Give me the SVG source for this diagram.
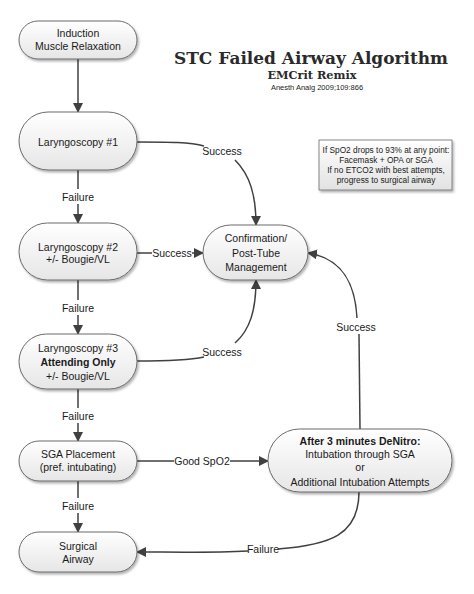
<svg xmlns="http://www.w3.org/2000/svg" width="474" height="594" viewBox="0 0 474 594">
<defs>
<linearGradient id="g" x1="0" y1="0" x2="0" y2="1">
<stop offset="0" stop-color="#ffffff"/>
<stop offset="1" stop-color="#e6e6e6"/>
</linearGradient>
<linearGradient id="gb" x1="0" y1="0" x2="0" y2="1">
<stop offset="0" stop-color="#ffffff"/>
<stop offset="1" stop-color="#e2e2e2"/>
</linearGradient>
<filter id="sh" x="-10%" y="-10%" width="125%" height="140%">
<feDropShadow dx="1.5" dy="2" stdDeviation="1.2" flood-color="#000" flood-opacity="0.3"/>
</filter>
<marker id="ah" viewBox="0 0 10 10" refX="9" refY="5" markerWidth="10" markerHeight="10" markerUnits="userSpaceOnUse" orient="auto">
<path d="M0,0 L10,5 L0,10 z" fill="#404040"/>
</marker>
<style>
.n{fill:url(#g);stroke:#6b6b6b;stroke-width:1;filter:url(#sh)}
.t{font-family:"Liberation Sans",Arial,sans-serif;font-size:10.5px;fill:#1a1a1a;text-anchor:middle}
.s{font-size:8.3px}
.b{font-weight:bold}
.c{fill:none;stroke:#404040;stroke-width:1.5}
.l{font-family:"Liberation Sans",Arial,sans-serif;font-size:10.5px;fill:#1a1a1a;text-anchor:middle}
</style>
</defs>
<rect width="474" height="594" fill="#ffffff"/>

<g id="title">
<text x="311" y="64" font-family="'DejaVu Serif',serif" font-weight="bold" font-size="16" fill="#2a2a2a" text-anchor="middle" textLength="274" lengthAdjust="spacingAndGlyphs">STC Failed Airway Algorithm</text>
<text x="312" y="79" font-family="'DejaVu Serif',serif" font-weight="bold" font-size="11" fill="#2a2a2a" text-anchor="middle" textLength="89" lengthAdjust="spacingAndGlyphs">EMCrit Remix</text>
<text x="317" y="90" font-family="'Liberation Sans',Arial,sans-serif" font-size="7.5" fill="#1a1a1a" text-anchor="middle">Anesth Analg 2009;109:866</text>
</g>

<g id="note">
<rect x="319" y="140" width="133" height="50" fill="url(#gb)" stroke="#6b6b6b" stroke-width="0.8" filter="url(#sh)"/>
<text class="t s" x="386" y="153">If SpO2 drops to 93% at any point:</text>
<text class="t s" x="386" y="163">Facemask + OPA or SGA</text>
<text class="t s" x="386" y="173">If no ETCO2 with best attempts,</text>
<text class="t s" x="386" y="183">progress to surgical airway</text>
</g>

<g id="connectors">
<line class="c" x1="78" y1="59" x2="78" y2="112" marker-end="url(#ah)"/>
<line class="c" x1="78" y1="170" x2="78" y2="189"/>
<line class="c" x1="78" y1="204" x2="78" y2="223" marker-end="url(#ah)"/>
<line class="c" x1="78" y1="280" x2="78" y2="300"/>
<line class="c" x1="78" y1="315" x2="78" y2="334" marker-end="url(#ah)"/>
<line class="c" x1="78" y1="389" x2="78" y2="408"/>
<line class="c" x1="78" y1="423" x2="78" y2="441" marker-end="url(#ah)"/>
<line class="c" x1="78" y1="481" x2="78" y2="498"/>
<line class="c" x1="78" y1="513" x2="78" y2="532" marker-end="url(#ah)"/>
<text class="l" x="78" y="201">Failure</text>
<text class="l" x="78" y="312">Failure</text>
<text class="l" x="78" y="420">Failure</text>
<text class="l" x="78" y="510">Failure</text>

<path class="c" d="M137,142 C170,142 190,142 204,146"/>
<text class="l" x="222" y="155">Success</text>
<path class="c" d="M235,160 C250,175 256,195 256,225" marker-end="url(#ah)"/>

<line class="c" x1="137" y1="253" x2="152" y2="253"/>
<text class="l" x="172" y="257">Success</text>
<line class="c" x1="192" y1="253" x2="203" y2="253" marker-end="url(#ah)"/>

<path class="c" d="M137,361 C170,361 190,360 204,357"/>
<text class="l" x="222" y="356">Success</text>
<path class="c" d="M235,343 C250,330 256,310 256,280" marker-end="url(#ah)"/>

<line class="c" x1="137" y1="461" x2="174" y2="461"/>
<text class="l" x="202" y="465">Good SpO2</text>
<line class="c" x1="230" y1="461" x2="268" y2="461" marker-end="url(#ah)"/>

<line class="c" x1="360" y1="429" x2="359" y2="334"/>
<text class="l" x="356" y="331">Success</text>
<path class="c" d="M357,318 C355,280 340,258 308,253" marker-end="url(#ah)"/>

<path class="c" d="M359,492 C359,535 330,545 278,549"/>
<text class="l" x="263" y="553">Failure</text>
<path class="c" d="M248,551 C210,553 170,552 137,552" marker-end="url(#ah)"/>
</g>

<g id="induction">
<rect class="n" x="19" y="21" width="118" height="38" rx="19"/>
<text class="t" x="78" y="37">Induction</text>
<text class="t" x="78" y="50">Muscle Relaxation</text>
</g>
<g id="laryngoscopy1">
<rect class="n" x="19" y="112" width="118" height="58" rx="29"/>
<text class="t" x="78" y="146">Laryngoscopy #1</text>
</g>
<g id="laryngoscopy2">
<rect class="n" x="19" y="223" width="118" height="57" rx="28.5"/>
<text class="t" x="78" y="251">Laryngoscopy #2</text>
<text class="t" x="78" y="263">+/- Bougie/VL</text>
</g>
<g id="laryngoscopy3">
<rect class="n" x="19" y="334" width="118" height="55" rx="27.5"/>
<text class="t" x="78" y="352">Laryngoscopy #3</text>
<text class="t b" x="78" y="366">Attending Only</text>
<text class="t" x="78" y="380">+/- Bougie/VL</text>
</g>
<g id="sga">
<rect class="n" x="19" y="441" width="118" height="40" rx="20"/>
<text class="t" x="78" y="458">SGA Placement</text>
<text class="t" x="78" y="471">(pref. intubating)</text>
</g>
<g id="surgical">
<rect class="n" x="19" y="532" width="118" height="40" rx="20"/>
<text class="t" x="78" y="550">Surgical</text>
<text class="t" x="78" y="563">Airway</text>
</g>
<g id="confirmation">
<rect class="n" x="203" y="225" width="105" height="55" rx="27.5"/>
<text class="t" x="256" y="242">Confirmation/</text>
<text class="t" x="256" y="257">Post-Tube</text>
<text class="t" x="256" y="271">Management</text>
</g>
<g id="denitro">
<rect class="n" x="268" y="429" width="184" height="63" rx="31.5"/>
<text class="t b" x="360" y="445">After 3 minutes DeNitro:</text>
<text class="t" x="360" y="458">Intubation through SGA</text>
<text class="t" x="360" y="471">or</text>
<text class="t" x="360" y="486">Additional Intubation Attempts</text>
</g>
</svg>
